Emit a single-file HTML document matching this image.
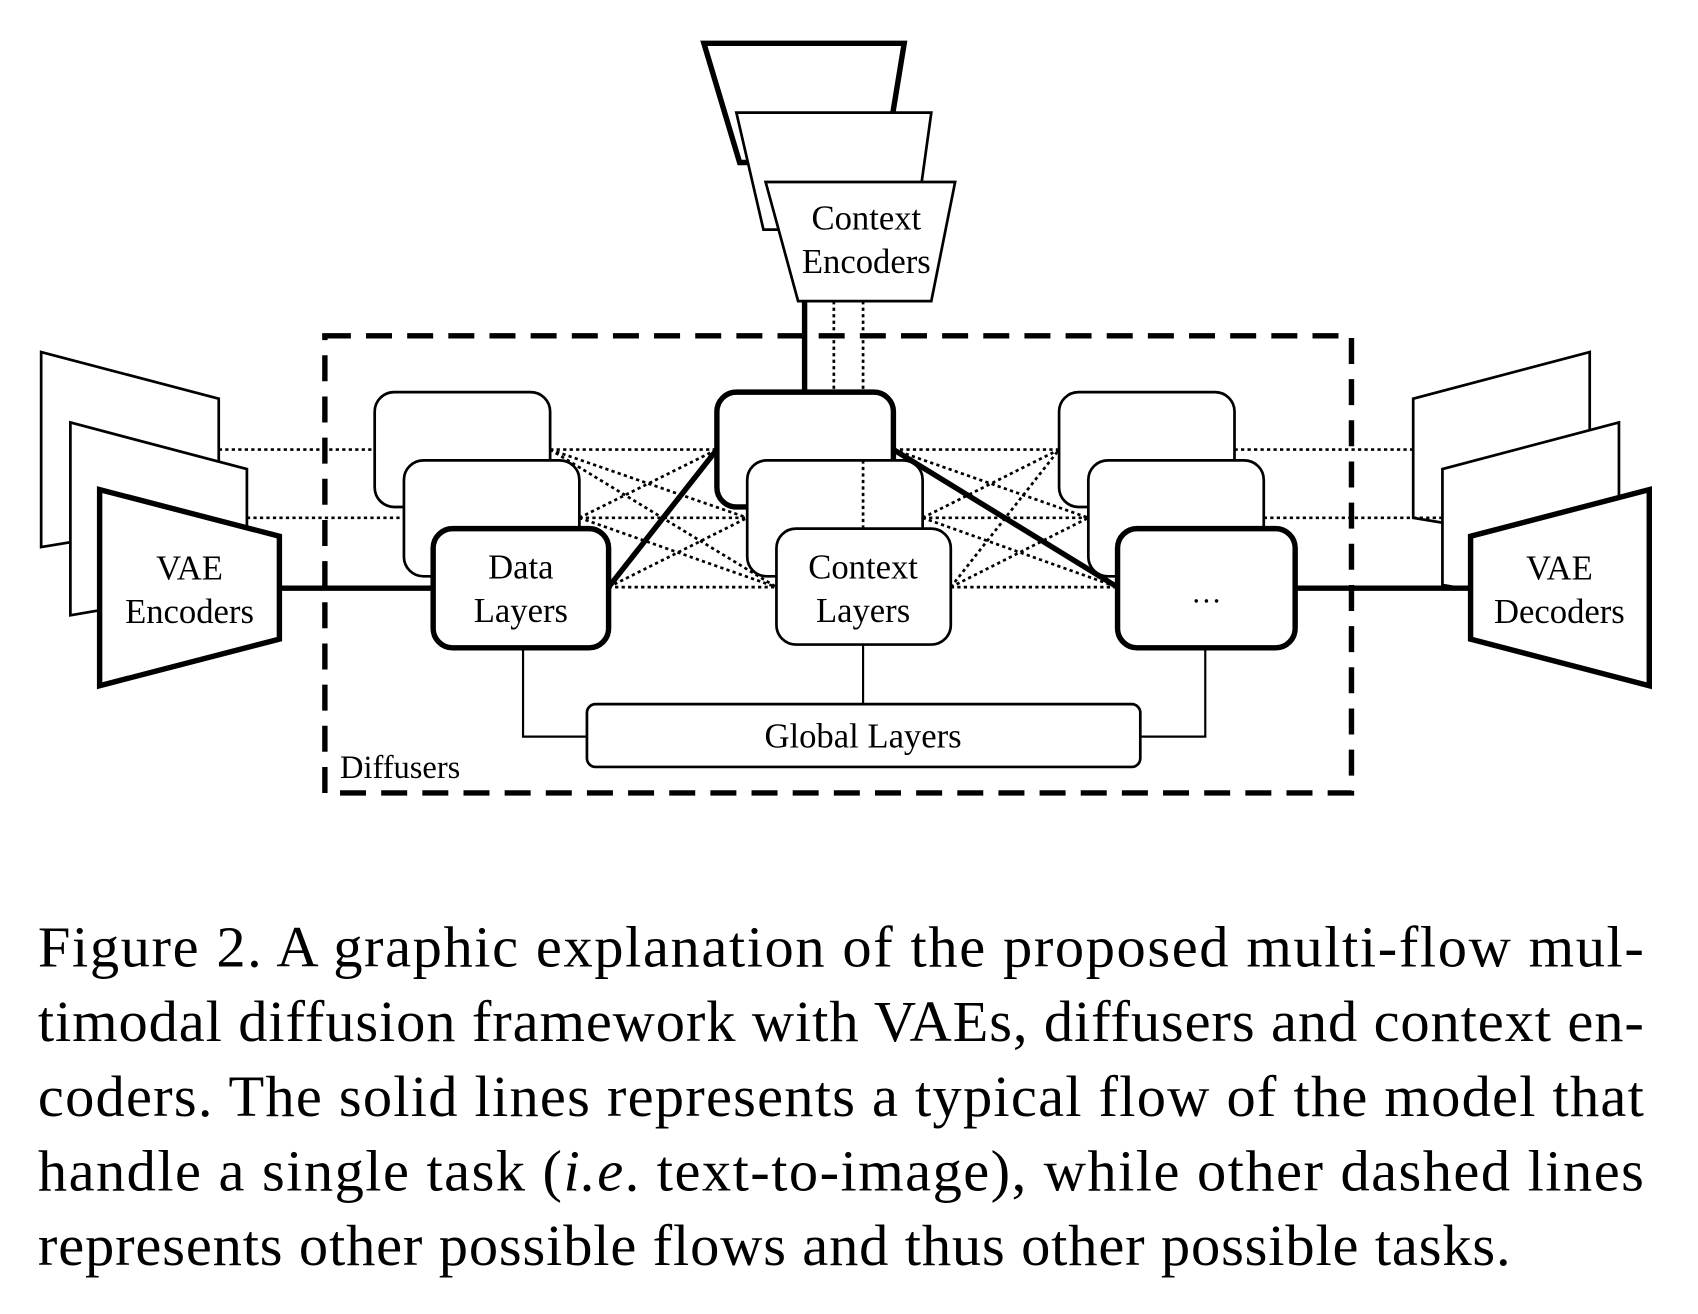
<!DOCTYPE html>
<html><head><meta charset="utf-8"><style>
html,body{margin:0;padding:0;background:#fff;}
svg{display:block;}
text{font-family:"Liberation Serif",serif;fill:#000;}
</style></head><body>
<svg width="1698" height="1314" viewBox="0 0 1568 1213" preserveAspectRatio="none" xmlns="http://www.w3.org/2000/svg">
<g fill="#fff" stroke="#000" stroke-linejoin="miter">
<polygon points="650,40 835,40 817,150 683,150" stroke-width="5"/>
<polygon points="680,104 860,104 845,212 705,212" stroke-width="2.5"/>
<polygon points="707,168 882,168 860,278 737,278" stroke-width="2.5"/>
</g>
<text x="800" y="212" font-size="32" text-anchor="middle">Context</text>
<text x="800" y="252" font-size="32" text-anchor="middle">Encoders</text>

<rect x="300" y="310" width="948" height="422" fill="none" stroke="#000" stroke-width="5" stroke-dasharray="24 14"/>
<text x="314" y="718" font-size="30">Diffusers</text>

<g fill="#fff" stroke="#000">
<polygon points="38,325 202,368 202,478 38,505" stroke-width="2.5"/>
<polygon points="65,390 228,433 228,540 65,568" stroke-width="2.5"/>
<polygon points="92,452 258,495 258,590 92,633" stroke-width="5"/>
<polygon points="1468,325 1305,368 1305,478 1468,505" stroke-width="2.5"/>
<polygon points="1495,390 1332,433 1332,540 1495,568" stroke-width="2.5"/>
<polygon points="1523,452 1358,495 1358,590 1523,633" stroke-width="5"/>
</g>
<text x="175" y="535" font-size="32" text-anchor="middle">VAE</text>
<text x="175" y="575" font-size="32" text-anchor="middle">Encoders</text>
<text x="1440" y="535" font-size="32" text-anchor="middle">VAE</text>
<text x="1440" y="575" font-size="32" text-anchor="middle">Decoders</text>

<g stroke="#000" stroke-width="2.5" stroke-dasharray="3 3" fill="none">
<line x1="202" y1="415" x2="346" y2="415"/>
<line x1="228" y1="478" x2="373" y2="478"/>
<line x1="1140" y1="415" x2="1305" y2="415"/>
<line x1="1167" y1="478" x2="1332" y2="478"/>
<line x1="770" y1="278" x2="770" y2="425"/>
<line x1="797" y1="278" x2="797" y2="488"/>
<line x1="508" y1="415" x2="662" y2="415"/>
<line x1="535" y1="478" x2="690" y2="478"/>
<line x1="562" y1="542" x2="717" y2="542"/>
<line x1="508" y1="415" x2="690" y2="478"/>
<line x1="508" y1="415" x2="717" y2="542"/>
<line x1="535" y1="478" x2="662" y2="415"/>
<line x1="535" y1="478" x2="717" y2="542"/>
<line x1="562" y1="542" x2="690" y2="478"/>
<line x1="825" y1="415" x2="978" y2="415"/>
<line x1="852" y1="478" x2="1005" y2="478"/>
<line x1="878" y1="542" x2="1032" y2="542"/>
<line x1="825" y1="415" x2="1005" y2="478"/>
<line x1="852" y1="478" x2="978" y2="415"/>
<line x1="852" y1="478" x2="1032" y2="542"/>
<line x1="878" y1="542" x2="978" y2="415"/>
<line x1="878" y1="542" x2="1005" y2="478"/>
</g>

<g fill="#fff" stroke="#000">
<rect x="346" y="362" width="162" height="106" rx="18" stroke-width="2.5"/>
<rect x="373" y="425" width="162" height="107" rx="18" stroke-width="2.5"/>
<rect x="400" y="488" width="162" height="110" rx="18" stroke-width="5"/>
<rect x="662" y="362" width="163" height="106" rx="18" stroke-width="5"/>
<rect x="690" y="425" width="162" height="107" rx="18" stroke-width="2.5"/>
<rect x="717" y="488" width="161" height="107" rx="18" stroke-width="2.5"/>
<rect x="978" y="362" width="162" height="106" rx="18" stroke-width="2.5"/>
<rect x="1005" y="425" width="162" height="107" rx="18" stroke-width="2.5"/>
<rect x="1032" y="488" width="164" height="110" rx="18" stroke-width="5"/>
<rect x="542" y="650" width="511" height="58" rx="8" stroke-width="2.5"/>
</g>
<line x1="797" y1="425" x2="797" y2="488" stroke="#000" stroke-width="2.5" stroke-dasharray="3 3"/>

<text x="481" y="534" font-size="32" text-anchor="middle">Data</text>
<text x="481" y="574" font-size="32" text-anchor="middle">Layers</text>
<text x="797" y="534" font-size="32" text-anchor="middle">Context</text>
<text x="797" y="574" font-size="32" text-anchor="middle">Layers</text>
<text x="1114" y="556" font-size="28" text-anchor="middle">…</text>
<text x="797" y="690" font-size="32" text-anchor="middle">Global Layers</text>

<g stroke="#000" fill="none">
<line x1="258" y1="543" x2="400" y2="543" stroke-width="5"/>
<line x1="1196" y1="543" x2="1358" y2="543" stroke-width="5"/>
<line x1="562" y1="542" x2="662" y2="415" stroke-width="5"/>
<line x1="825" y1="415" x2="1032" y2="542" stroke-width="5"/>
<line x1="743" y1="278" x2="743" y2="362" stroke-width="5"/>
<polyline points="483,598 483,680 542,680" stroke-width="2"/>
<line x1="797" y1="595" x2="797" y2="650" stroke-width="2"/>
<polyline points="1113,598 1113,680 1053,680" stroke-width="2"/>
</g>

<g font-size="54">
<text x="35" y="892" textLength="1483" lengthAdjust="spacing">Figure 2.  A graphic explanation of the proposed multi-flow mul-</text>
<text x="35" y="961" textLength="1483" lengthAdjust="spacing">timodal diffusion framework with VAEs, diffusers and context en-</text>
<text x="35" y="1030" textLength="1483" lengthAdjust="spacing">coders. The solid lines represents a typical flow of the model that</text>
<text x="35" y="1099" textLength="1483" lengthAdjust="spacing">handle a single task (<tspan font-style="italic">i.e</tspan>. text-to-image), while other dashed lines</text>
<text x="35" y="1168" textLength="1360" lengthAdjust="spacing">represents other possible flows and thus other possible tasks.</text>
</g>
</svg>
</body></html>
